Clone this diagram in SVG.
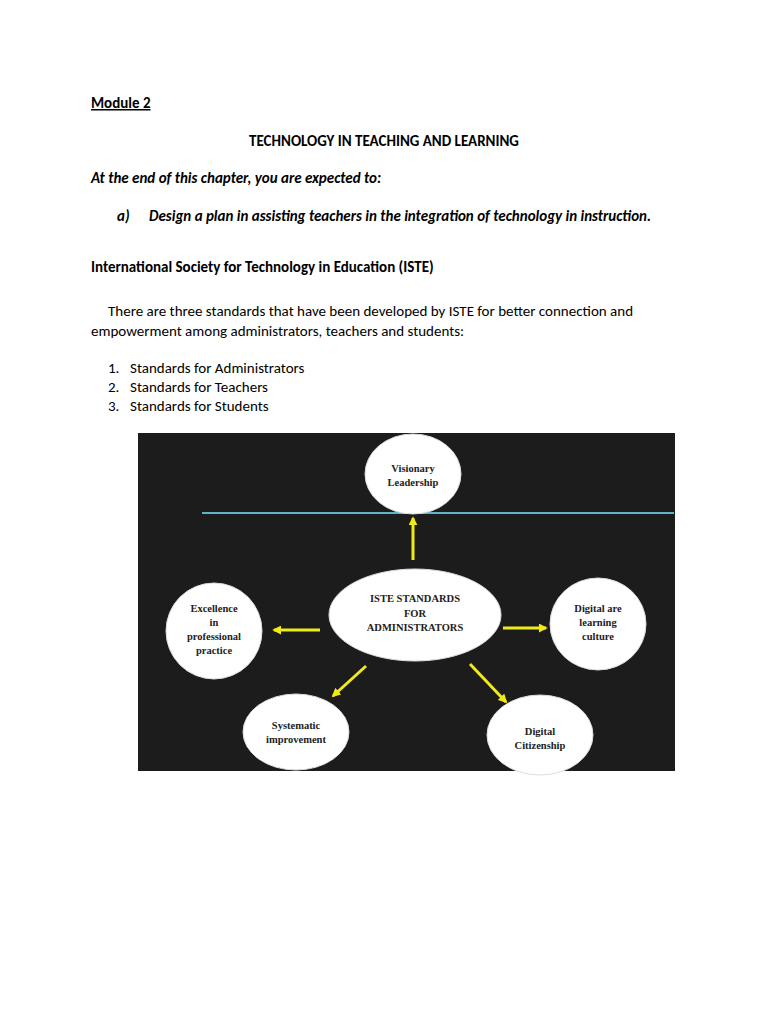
<svg xmlns="http://www.w3.org/2000/svg" width="768" height="1024" viewBox="0 0 768 1024">
<defs>
<style>
.t{font-family:Carlito,"Liberation Sans",Arial,sans-serif;font-size:15px;fill:#000}
.b{font-weight:bold}
.i{font-style:italic}
.n{font-family:"Liberation Serif","Times New Roman",serif;font-size:10.5px;font-weight:bold;fill:#222;text-anchor:middle}
.e{fill:#fff;stroke:#ddd;stroke-width:1}
.a{stroke:#f0ea1a;stroke-width:3;fill:none;marker-end:url(#ah)}
</style>
<marker id="ah" viewBox="0 0 10 10" refX="8" refY="5" markerWidth="3" markerHeight="3" orient="auto"><path d="M0,0L10,5L0,10z" fill="#f0ea1a"/></marker>
</defs>
<rect width="768" height="1024" fill="#fff"/>
<text class="t b" x="91" y="108" text-decoration="underline">Module 2</text>
<text class="t b" x="384" y="146" text-anchor="middle">TECHNOLOGY IN TEACHING AND LEARNING</text>
<text class="t b i" x="91" y="183">At the end of this chapter, you are expected to:</text>
<text class="t b i" x="117" y="221">a)</text>
<text class="t b i" x="149" y="221">Design a plan in assisting teachers in the integration of technology in instruction.</text>
<text class="t b" x="91" y="272">International Society for Technology in Education (ISTE)</text>
<text class="t" x="108" y="316">There are three standards that have been developed by ISTE for better connection and</text>
<text class="t" x="91" y="336">empowerment among administrators, teachers and students:</text>
<text class="t" x="108" y="373">1.</text><text class="t" x="130" y="373">Standards for Administrators</text>
<text class="t" x="108" y="392">2.</text><text class="t" x="130" y="392">Standards for Teachers</text>
<text class="t" x="108" y="411">3.</text><text class="t" x="130" y="411">Standards for Students</text>
<rect x="138" y="433" width="537" height="338" fill="#1c1c1c"/>
<line x1="202" y1="513" x2="674" y2="513" stroke="#5fb3c9" stroke-width="2"/>
<g id="connectors">
<line class="a" x1="413" y1="560" x2="413" y2="518"/>
<line class="a" x1="320" y1="630" x2="274" y2="630"/>
<line class="a" x1="503" y1="628" x2="546" y2="628"/>
<line class="a" x1="366" y1="666" x2="333" y2="696"/>
<line class="a" x1="470" y1="664" x2="506" y2="702"/>
</g>
<g id="visionary"><ellipse class="e" cx="413" cy="474" rx="48" ry="40"/><text class="n" x="413" y="472">Visionary</text><text class="n" x="413" y="486">Leadership</text></g>
<g id="center"><ellipse class="e" cx="415" cy="615" rx="86" ry="46"/><text class="n" x="415" y="602">ISTE STANDARDS</text><text class="n" x="415" y="617">FOR</text><text class="n" x="415" y="631">ADMINISTRATORS</text></g>
<g id="excellence"><ellipse class="e" cx="214" cy="631" rx="48" ry="48"/><text class="n" x="214" y="612">Excellence</text><text class="n" x="214" y="626">in</text><text class="n" x="214" y="640">professional</text><text class="n" x="214" y="654">practice</text></g>
<g id="digitalculture"><ellipse class="e" cx="598" cy="624" rx="48" ry="46"/><text class="n" x="598" y="612">Digital are</text><text class="n" x="598" y="626">learning</text><text class="n" x="598" y="640">culture</text></g>
<g id="systematic"><ellipse class="e" cx="296" cy="732" rx="53" ry="38"/><text class="n" x="296" y="729">Systematic</text><text class="n" x="296" y="743">improvement</text></g>
<g id="citizenship"><ellipse class="e" cx="540" cy="735" rx="53" ry="40"/><text class="n" x="540" y="735">Digital</text><text class="n" x="540" y="749">Citizenship</text></g>
</svg>
